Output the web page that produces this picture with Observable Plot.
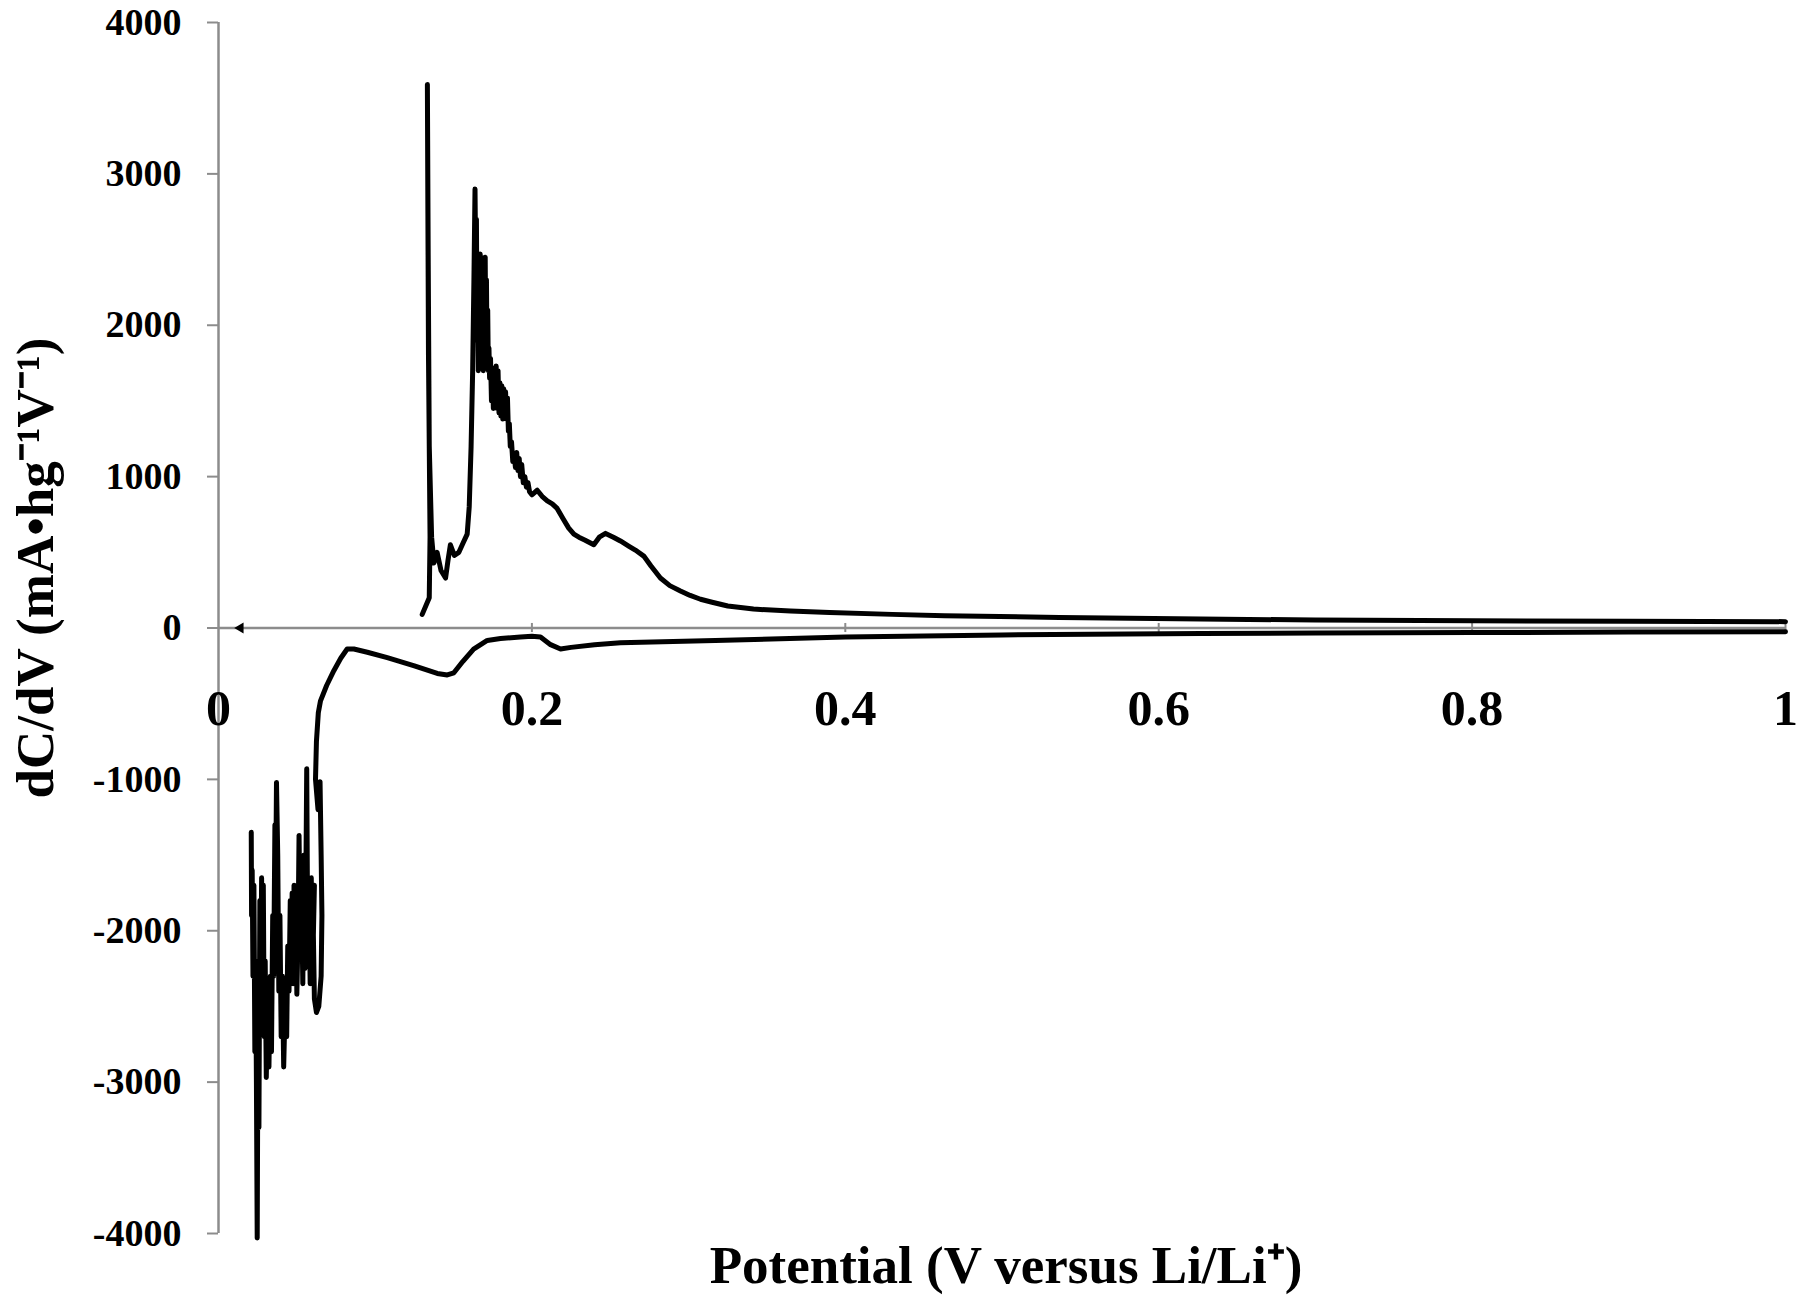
<!DOCTYPE html>
<html><head><meta charset="utf-8">
<script src="https://cdn.jsdelivr.net/npm/d3@7"></script>
<script src="https://cdn.jsdelivr.net/npm/@observablehq/plot@0.6"></script>
<style>html,body{margin:0;padding:0;background:#fff;} svg{display:block;}</style>
</head><body><div id="chart"></div>
<script>
// Charge (delithiation) branch: potential (V) and dC/dV
const chargeV = [0.1300,0.1345,0.1350,0.1340,0.1333,0.1338,0.1345,0.1360,0.1375,0.1395,0.1420,0.1449,0.1465,0.1480,0.1505,0.1534,0.1560,0.1587,0.1600,0.1612,0.1622,0.1630,0.1637,0.1642,0.1646,0.1650,0.1654,0.1658,0.1662,0.1666,0.1670,0.1674,0.1678,0.1682,0.1686,0.1690,0.1694,0.1698,0.1702,0.1706,0.1710,0.1714,0.1718,0.1722,0.1726,0.1730,0.1736,0.1742,0.1748,0.1754,0.1760,0.1766,0.1772,0.1778,0.1784,0.1790,0.1796,0.1802,0.1808,0.1814,0.1820,0.1826,0.1832,0.1838,0.1844,0.1850,0.1856,0.1862,0.1870,0.1878,0.1886,0.1895,0.1903,0.1911,0.1919,0.1927,0.1935,0.1945,0.1955,0.1965,0.1975,0.1985,0.2000,0.2034,0.2065,0.2098,0.2130,0.2161,0.2200,0.2235,0.2268,0.2300,0.2340,0.2395,0.2430,0.2470,0.2520,0.2565,0.2620,0.2660,0.2714,0.2760,0.2820,0.2880,0.2948,0.3010,0.3076,0.3150,0.3250,0.3414,0.3650,0.3900,0.4300,0.4633,0.5367,0.6267,0.7000,0.8000,0.9000,1.0000];
const chargeI = [90,200,600,1800,3590,2500,1200,600,430,500,380,330,450,550,480,500,560,620,800,1200,1700,2300,2900,2300,2700,1900,2450,1700,2400,1750,2470,1800,2450,1850,2400,1700,2350,1900,2450,1800,2300,1750,2100,1700,1850,1650,1780,1500,1720,1450,1700,1480,1730,1450,1700,1420,1620,1400,1600,1380,1580,1400,1560,1380,1520,1300,1350,1200,1230,1100,1150,1060,1160,1040,1120,1000,1080,960,1000,930,960,900,880,910,870,840,820,790,720,660,620,600,580,550,600,625,600,575,540,515,475,410,330,280,245,215,190,170,145,125,112,103,90,81,70,59,53,48,45,42];
// Discharge (lithiation) branch, from high to low potential
const dischargeV = [1.0000,0.9000,0.8000,0.7000,0.6270,0.5000,0.4000,0.3170,0.2565,0.2400,0.2250,0.2183,0.2119,0.2055,0.2000,0.1927,0.1800,0.1715,0.1628,0.1560,0.1502,0.1460,0.1396,0.1250,0.1077,0.0950,0.0864,0.0821,0.0780,0.0736,0.0690,0.0651,0.0637,0.0625,0.0619,0.0635,0.0648,0.0655,0.0660,0.0655,0.0640,0.0625,0.0612,0.0605,0.0612,0.0600,0.0592,0.0585,0.0578,0.0570,0.0563,0.0558,0.0552,0.0545,0.0538,0.0530,0.0522,0.0514,0.0508,0.0500,0.0494,0.0488,0.0482,0.0476,0.0470,0.0464,0.0458,0.0450,0.0442,0.0435,0.0425,0.0416,0.0408,0.0400,0.0392,0.0385,0.0378,0.0370,0.0365,0.0360,0.0352,0.0346,0.0338,0.0330,0.0322,0.0314,0.0305,0.0298,0.0292,0.0286,0.0280,0.0275,0.0270,0.0264,0.0258,0.0252,0.0247,0.0242,0.0237,0.0232,0.0226,0.0220,0.0215,0.0211,0.0209];
const dischargeI = [-25,-27,-30,-33,-36,-46,-60,-83,-98,-110,-128,-139,-110,-60,-55,-59,-70,-82,-139,-220,-296,-310,-300,-250,-196,-160,-139,-139,-200,-282,-380,-481,-560,-750,-1000,-1200,-1015,-1500,-1900,-2300,-2500,-2540,-2450,-2000,-1700,-2300,-1650,-2350,-1800,-2200,-930,-1600,-2250,-1500,-2350,-1750,-2100,-1370,-2000,-2420,-1800,-2300,-1700,-2350,-1750,-2200,-1800,-2400,-2100,-2700,-2500,-2900,-2300,-2700,-1900,-2400,-1500,-1020,-1700,-1300,-2300,-1900,-2800,-2300,-2900,-2400,-2970,-2200,-2700,-1700,-2300,-1650,-2600,-1800,-3300,-2600,-4030,-3000,-2200,-2800,-1700,-2300,-1600,-1900,-1350];
const markerV = [0.014];
const markerI = [0];

const xTicks = [0, 0.2, 0.4, 0.6, 0.8, 1];
const xTickLabels = ["0", "0.2", "0.4", "0.6", "0.8", "1"];
const yTicks = [4000, 3000, 2000, 1000, 0, -1000, -2000, -3000, -4000];
const xTitle = "Potential (V versus Li/Li\u207A)";
const yTitle = "dC/dV (mA\u2022hg\u207B\u00B9V\u207B\u00B9)";

const charge = chargeV.map((v, i) => ({v, c: chargeI[i]}));
const discharge = dischargeV.map((v, i) => ({v, c: dischargeI[i]}));
const marker = markerV.map((v, i) => ({v, c: markerI[i]}));

const font = "'Liberation Serif', 'Times New Roman', serif";
const axisGray = "#8c8c8c";

const chart = Plot.plot({
  width: 1800, height: 1297,
  marginLeft: 218, marginRight: 15, marginTop: 22, marginBottom: 64,
  style: {fontFamily: font, background: "#fff", color: "#000"},
  x: {domain: [0, 1], axis: null},
  y: {domain: [-4000, 4000]},
  marks: [
    Plot.ruleX([0], {stroke: axisGray, strokeWidth: 2.5}),
    Plot.ruleY([0], {stroke: axisGray, strokeWidth: 2.5}),
    Plot.ruleX(xTicks.slice(1), {x: d => d, y1: -30, y2: 30, stroke: axisGray, strokeWidth: 2}),
    Plot.axisY({ticks: yTicks, tickSize: 11, tickPadding: 26, tickFormat: d => String(d),
      stroke: axisGray, strokeWidth: 2, fill: "#000", fontSize: 38, fontWeight: "bold", label: null}),
    Plot.text(xTicks, {x: d => d, y: 0, text: (d, i) => xTickLabels[i], dy: 81,
      fontSize: 50, fontWeight: "bold", lineAnchor: "middle", fill: "#000"}),
    Plot.dot(marker, {x: "v", y: "c", symbol: "triangle", r: 4, fill: "#000", stroke: "none", rotate: -90}),
    Plot.line(discharge, {x: "v", y: "c", stroke: "#000", strokeWidth: 5, strokeLinejoin: "round"}),
    Plot.line(charge, {x: "v", y: "c", stroke: "#000", strokeWidth: 5, strokeLinejoin: "round"}),
    Plot.text([yTitle], {frameAnchor: "left", rotate: -90, dx: -182, dy: -60,
      textAnchor: "middle", fontSize: 53, fontWeight: "bold", lineAnchor: "middle", fill: "#000"}),
    Plot.text([xTitle], {frameAnchor: "bottom", dx: 4, dy: 33,
      fontSize: 53, fontWeight: "bold", lineAnchor: "middle", fill: "#000"})
  ]
});
document.getElementById("chart").appendChild(chart);
</script>
</body></html>
